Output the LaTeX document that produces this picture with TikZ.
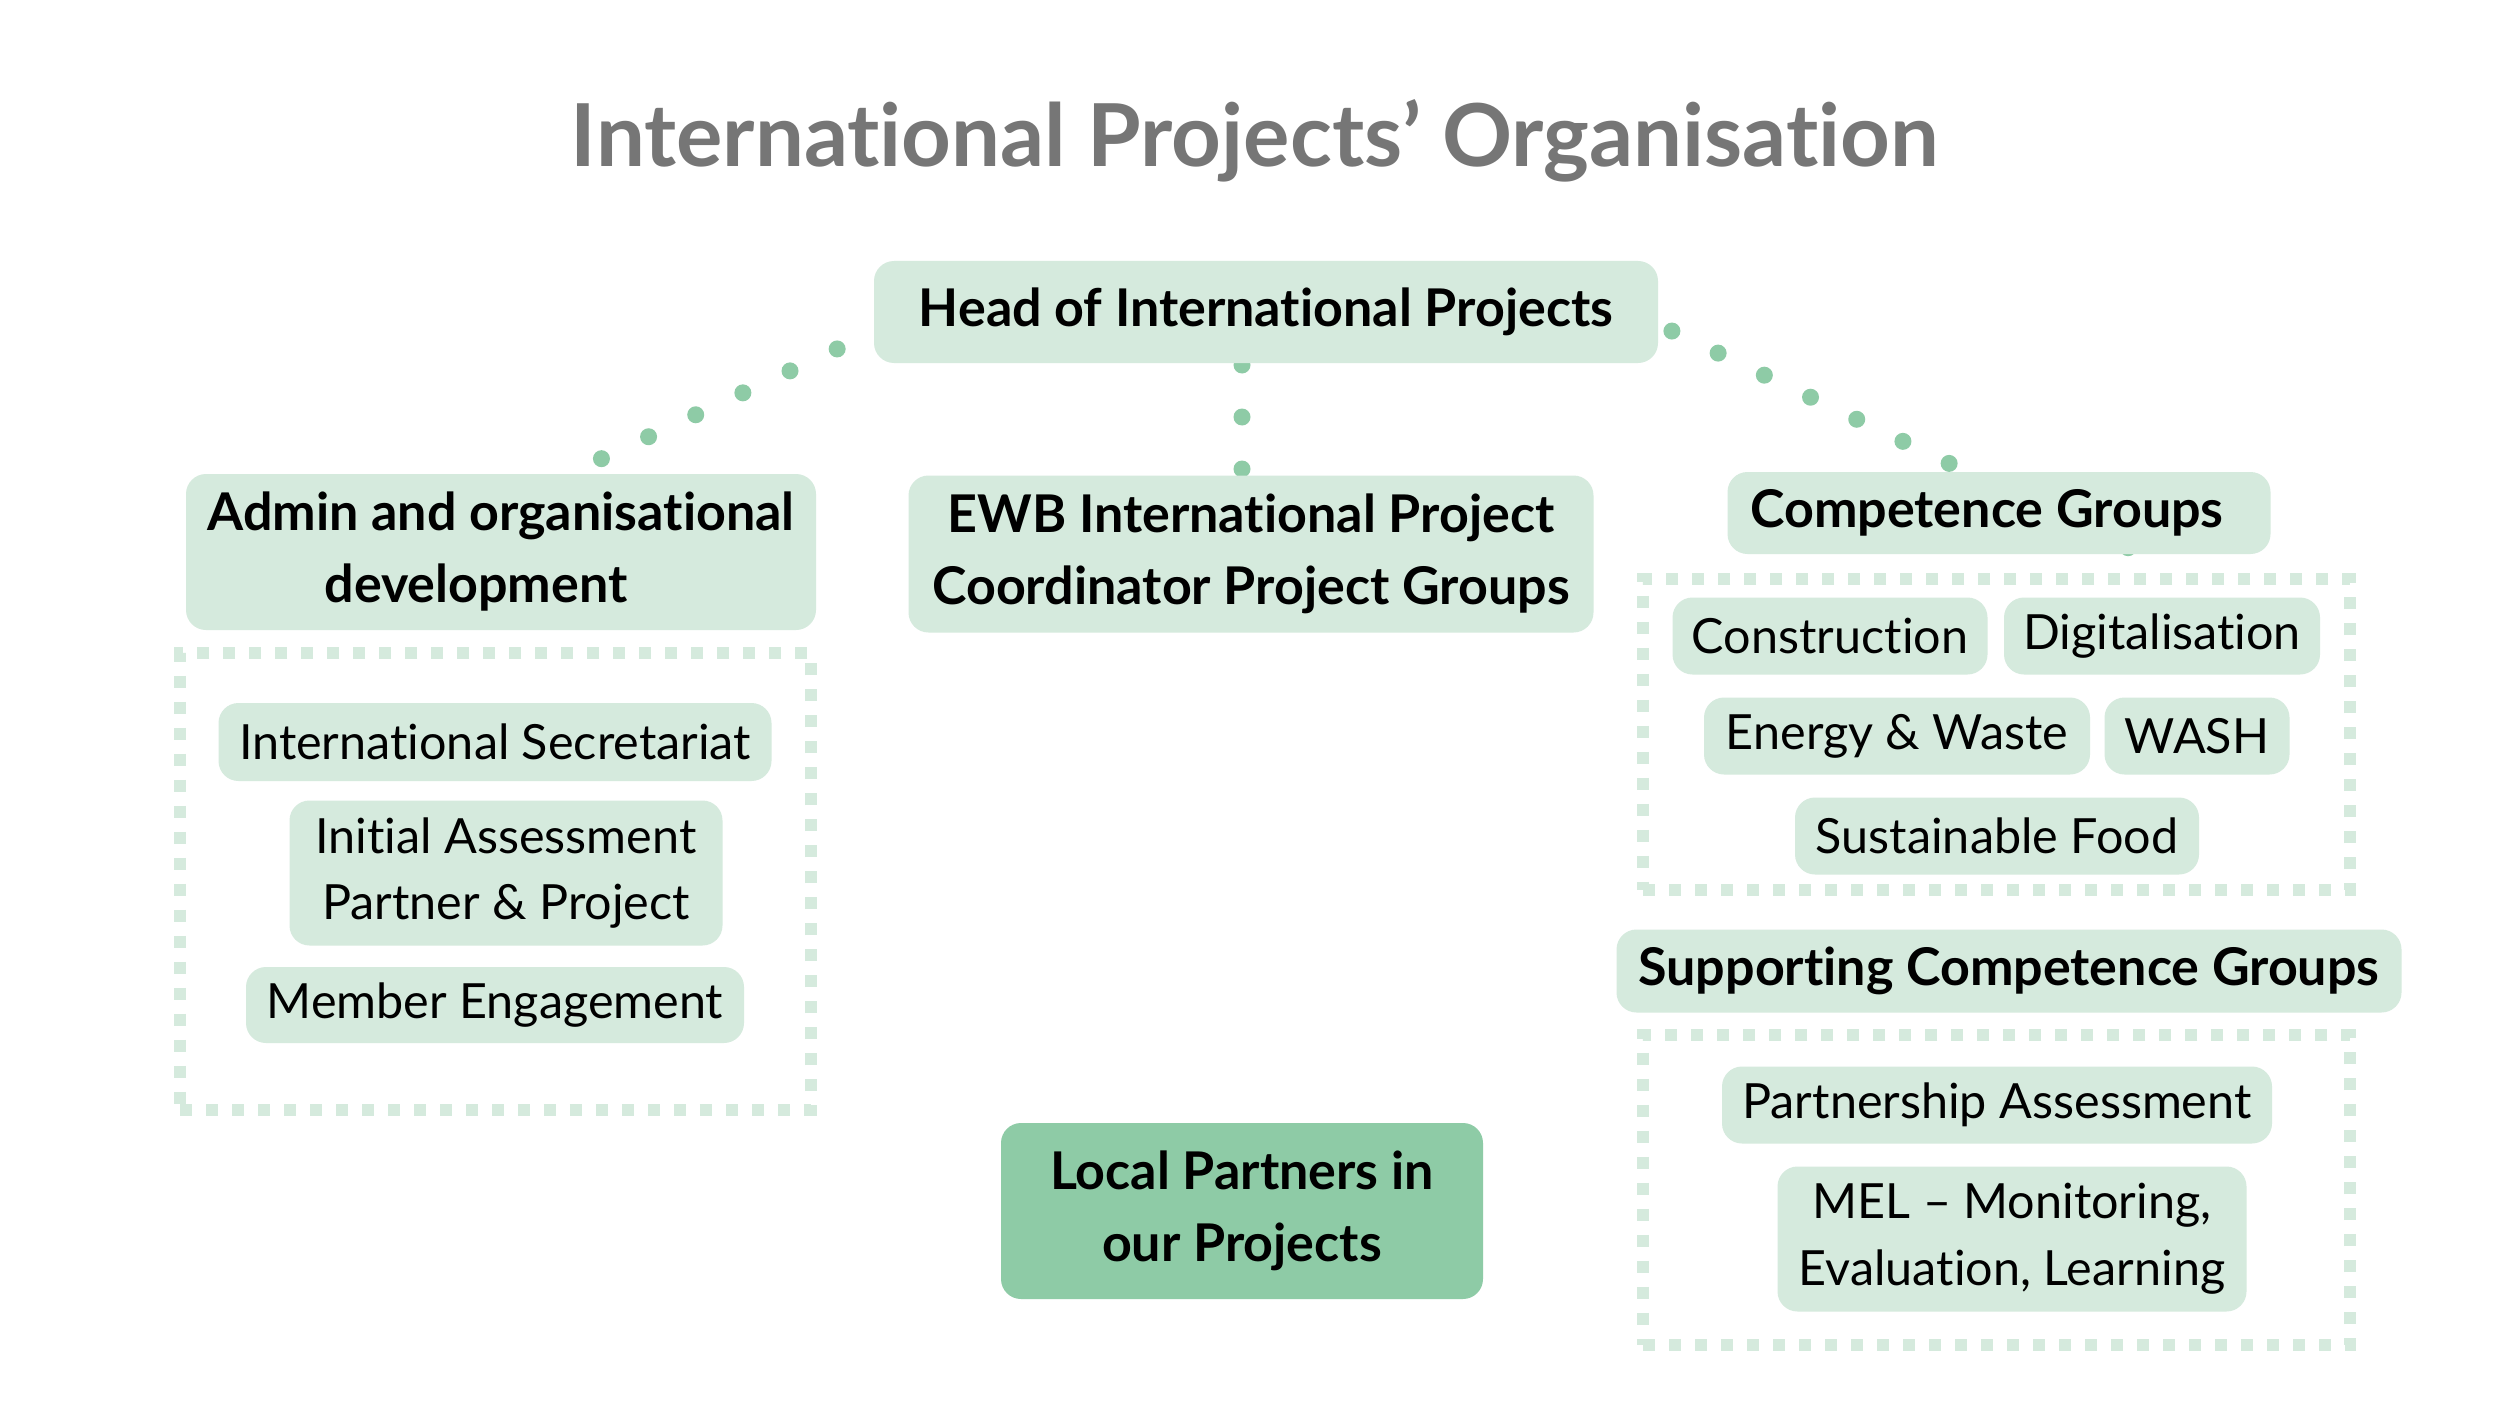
\documentclass[tikz,border=0pt]{standalone}
\usepackage{fontspec}
\setmainfont{Lato}[Ligatures={NoCommon,NoRare,NoContextual}, RawFeature={-liga;-dlig;-clig;-calt}]
\usetikzlibrary{backgrounds}

\definecolor{boxgreen}{RGB}{213,234,221}
\definecolor{dotgreen}{RGB}{142,203,166}
\definecolor{titlegray}{RGB}{118,118,118}

\begin{document}
\begin{tikzpicture}
        \tikzset{block/.style= {fill=boxgreen, rectangle, rounded corners=0.2cm, align=center, inner sep=0pt, font=\fontsize{13.8}{19}\selectfont},
        hblock/.style={block, font=\bfseries\fontsize{14.8}{20.5}\selectfont},
        lblock/.style={hblock, fill=dotgreen},
        group/.style={draw=boxgreen, rectangle, line width=0.12cm, dash pattern=on 0.12cm off 0.14cm, inner sep=0pt},
        dotline/.style={dotgreen, line width=0.17cm, line cap=round, dash pattern=on 0pt off #1},
        dotline/.default=0.52cm,
        }
        \begin{pgfonlayer}{background}
        \fill[white] (0,0) rectangle (25,-14.06);
        \end{pgfonlayer}
        \useasboundingbox (0,0) rectangle (25,-14.06);

        \node[anchor=base, text=titlegray, font=\bfseries\fontsize{24.7}{28}\selectfont] (title) at (12.55,-1.67) {International Projects’ Organisation};

        \node[hblock, minimum width=7.84cm, minimum height=1.02cm] (head) at (12.66,-3.12) {Head of International Projects};
        \node[hblock, minimum width=6.30cm, minimum height=1.56cm] (admin) at (5.01,-5.52) {Admin and organisational\\development\hspace*{0.5cm}};
        \node[hblock, minimum width=6.85cm, minimum height=1.57cm] (ewb) at (12.51,-5.54) {EWB International Project\\Coordinator Project Groups};
        \node[hblock, minimum width=5.43cm, minimum height=0.82cm] (comp) at (19.99,-5.13) {Competence Groups\hspace*{0.24cm}};
        \node[hblock, minimum width=7.85cm, minimum height=0.83cm] (support) at (20.09,-9.71) {Supporting Competence Groups};
        \node[lblock, minimum width=4.82cm, minimum height=1.76cm] (local) at (12.42,-12.11) {Local Partners in\\our Projects};

        % admin groups
        \node[group, minimum width=6.31cm, minimum height=4.57cm] (admingrp) at (4.955,-8.815) {};
        \node[block, minimum width=5.53cm, minimum height=0.78cm] (secr) at (4.95,-7.42) {International Secretariat};
        \node[block, minimum width=4.33cm, minimum height=1.45cm] (initial) at (5.06,-8.73) {Initial Assessment\\Partner \& Project};
        \node[block, minimum width=4.98cm, minimum height=0.76cm] (member) at (4.95,-10.05) {Member Engagement};

        % competence groups
        \node[group, minimum width=7.07cm, minimum height=3.11cm] (compgrp) at (19.965,-7.345) {};
        \node[block, minimum width=3.15cm, minimum height=0.77cm] (constr) at (18.30,-6.36) {Construction};
        \node[block, minimum width=3.16cm, minimum height=0.77cm] (digit) at (21.62,-6.36) {Digitalisation};
        \node[block, minimum width=3.86cm, minimum height=0.77cm] (energy) at (18.97,-7.36) {Energy \& Waste};
        \node[block, minimum width=1.85cm, minimum height=0.77cm] (wash) at (21.97,-7.36) {WASH};
        \node[block, minimum width=4.04cm, minimum height=0.77cm] (food) at (19.97,-8.36) {Sustainable Food};

        % supporting groups
        \node[group, minimum width=7.07cm, minimum height=3.10cm] (suppgrp) at (19.965,-11.90) {};
        \node[block, minimum width=5.50cm, minimum height=0.77cm] (partner) at (19.97,-11.05) {Partnership Assessment};
        \node[block, minimum width=4.69cm, minimum height=1.45cm] (mel) at (20.12,-12.39) {MEL – Monitoring,\\Evaluation, Learning};

%% paths
        \begin{pgfonlayer}{background}
        \draw[dotline] ([shift={(0.11,-0.15)}]head.west) -- ([shift={(0.54,-0.07)}]admin.north);
        \draw[dotline] ([shift={(-0.24,-0.01)}]head.center) -- ([xshift=-0.09cm]ewb.north);
        \draw[dotline=0.512cm] ([shift={(-0.33,0.03)}]head.east) -- ([shift={(-0.04,-0.14)}]comp.north);
        \draw[dotline] ([shift={(1.29,0.07)}]comp.south) -- ([xshift=1.29cm]comp.center);
        \end{pgfonlayer}
\end{tikzpicture}
\end{document}
